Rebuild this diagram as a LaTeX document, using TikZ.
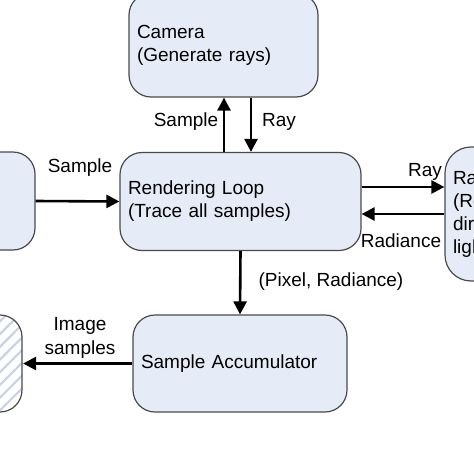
\documentclass[tikz,border=0pt]{standalone}
\usepackage{fontspec}
\setmainfont{Liberation Sans}
\usetikzlibrary{arrows.meta,patterns.meta}
\definecolor{boxfill}{HTML}{E6ECF7}
\definecolor{boxdraw}{HTML}{4A4A4A}
\definecolor{hatch}{HTML}{C9D2E3}
\tikzset{
  blk/.style={draw=boxdraw,line width=1.2pt,fill=boxfill,rounded corners=22pt,
    align=left,inner xsep=8pt,inner ysep=0pt,font=\fontsize{19}{23}\selectfont},
  arr/.style={line width=2.6pt,-{Triangle[length=13pt,width=13pt]}},
  lbl/.style={font=\fontsize{19}{23}\selectfont,inner sep=0pt,align=center},
}
\begin{document}
\begin{tikzpicture}[x=1pt,y=-1pt]
\useasboundingbox (0,0) rectangle (474,474);
\clip (0,0) rectangle (474,474);
\fill[white] (0,0) rectangle (474,474);
% boxes
\node[blk,minimum width=189pt,minimum height=104pt,text width=173pt] (cam) at (223.5,45) {Camera\\(Generate rays)};
\node[blk,minimum width=241pt,minimum height=98pt,text width=225pt] (loop) at (240.5,201.5) {Rendering Loop\\(Trace all samples)};
\node[blk,minimum width=214pt,minimum height=97pt,text width=198pt] (acc) at (240,363.5) {Sample Accumulator};
\node[blk,minimum width=190pt,minimum height=134pt,text width=174pt,rounded corners=26pt] (ray) at (540,214) {Ray tracer\\(Returns\\direct\\lighting)};
\node[blk,minimum width=120pt,minimum height=98pt] (smp) at (-25,201) {};
\node[draw=boxdraw,line width=1.2pt,rounded corners=22pt,minimum width=100pt,minimum height=97pt,
  pattern={Lines[angle=45,distance=9pt,line width=2.2pt]},pattern color=hatch] (img) at (-28,363.5) {};
% connectors
\draw[arr] ([xshift=-16.5pt]loop.north) -- ([xshift=-16.5pt]loop.north |- cam.south);
\draw[arr] ([xshift=10.5pt]loop.north |- cam.south) -- ([xshift=10.5pt]loop.north);
\draw[arr] (smp.east) -- (loop.west);
\draw[arr] ([yshift=14.5pt]loop.east) -- ([yshift=14.5pt]loop.east -| ray.west);
\draw[arr] ([yshift=-12.5pt]loop.east -| ray.west) -- ([yshift=-12.5pt]loop.east);
\draw[arr] (loop.south) -- (acc.north);
\draw[arr] (acc.west) -- (img.east);
% labels
\node[lbl] (l1) at (186,122) {Sample};
\node[lbl] (l2) at (279,122) {Ray};
\node[lbl] (l3) at (80,168) {Sample};
\node[lbl] (l4) at (425,172) {Ray};
\node[lbl] (l5) at (401,241) {Radiance};
\node[lbl] (l6) at (331,282) {(Pixel, Radiance)};
\node[lbl,font=\fontsize{19}{24}\selectfont] (l7) at (80,338) {Image\\samples};
\end{tikzpicture}
\end{document}
